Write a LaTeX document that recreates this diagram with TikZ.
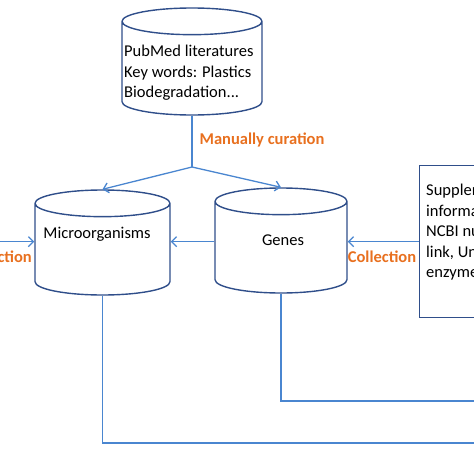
\documentclass[tikz,border=0pt]{standalone}
\usepackage{fontspec}
\setmainfont{Carlito}
\usetikzlibrary{positioning,shapes.geometric,arrows.meta}
\definecolor{dbblue}{RGB}{47,78,138}
\definecolor{lnblue}{RGB}{74,134,208}
\definecolor{curorange}{RGB}{232,112,31}

\begin{document}
\begin{tikzpicture}[x=1pt,y=-1pt,
		db/.style={cylinder,shape border rotate=90,draw=dbblue,line width=1.4pt,aspect=4,anchor=shape center},
		txt/.style={font=\fontsize{16.5}{20.5}\selectfont,align=left,inner sep=0pt},
		lab/.style={font=\fontsize{16.5}{20.5}\selectfont\bfseries,text=curorange,inner sep=0pt},
		link/.style={draw=lnblue,line width=1.3pt},
		flow/.style={link,-{Straight Barb[length=5pt,width=10pt]}}]
			\useasboundingbox (0,0) rectangle (474,474);
			% the three databases
			\node (pubmed) [db,minimum width=140pt,minimum height=107pt] at (192,61.5) {};
			\node (micro) [db,minimum width=135pt,minimum height=105pt] at (102.5,242.5) {};
			\node (genes) [db,minimum width=132pt,minimum height=105pt] at (281,240.5) {};
			\node (pubmed-txt) [txt,anchor=north west] at (124,45) {PubMed literatures\\Key words: Plastics\\Biodegradation...};
			\node (micro-txt) [txt] at (97,234) {Microorganisms};
			\node (genes-txt) [txt] at (283,240) {Genes};
			% supplementary box, cut by the right edge
			\node (info) [draw=dbblue,line width=1.3pt,anchor=north west,minimum width=160pt,minimum height=152pt] at (419,165) {};
			\node (info-txt) [txt,anchor=north west] at (426,184) {Supplementary\\information,\\NCBI nucleotide\\link, UniProt\\enzyme};
			
			\coordinate (split) at (192,167);
			\coordinate (left-in) at (-5,242);
			\coordinate (m-end) at (480,443);
			\coordinate (g-end) at (480,401);
			
			\draw[link] (pubmed.south) -- (split);
			\draw[flow] (split) -- (micro.north);
			\draw[flow] (split) -- (genes.north);
			\draw[flow] (info.west -| genes.west) -- (info.west -| micro.east);
			\draw[flow] (info.west) -- (info.west -| genes.east);
			\draw[flow] (info.west -| left-in) -- (info.west -| micro.west);
			\draw[link] (micro.south) |- (m-end);
			\draw[link] (genes.south) |- (g-end);
			
			\node (cur-lab) [lab] at (262,140) {Manually curation};
			\node (col-lab) [lab] at (382,257) {Collection};
			\node (col-lab-l) [lab,anchor=east] at (32,257) {Collection};
\end{tikzpicture}
\end{document}
